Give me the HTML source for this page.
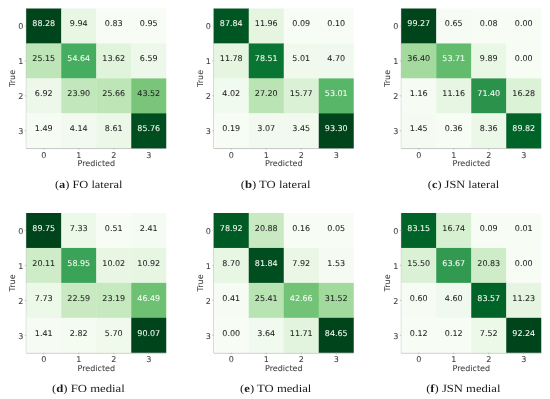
<!DOCTYPE html>
<html lang="en"><head><meta charset="utf-8"><title>Confusion matrices</title>
<style>html,body{margin:0;padding:0;background:#fff}body{width:550px;height:399px;overflow:hidden}svg{display:block}.c{font-family:"DejaVu Sans","Liberation Sans",sans-serif;text-anchor:middle;text-rendering:geometricPrecision;stroke-width:0.06px}.cap{font-family:"Liberation Serif","DejaVu Serif",serif;text-anchor:middle;fill:#1a1a1a;text-rendering:geometricPrecision}</style></head><body>
<svg width="550" height="399" viewBox="0 0 550 399">
<rect width="550" height="399" fill="#ffffff"/>
<g>
<path d="M26.35 8.50V148.55H166.25" fill="none" stroke="#b8b8b8" stroke-width="1"/>
<rect x="26.25" y="8.50" width="35.30" height="35.24" fill="#00441b"/>
<rect x="61.25" y="8.50" width="35.30" height="35.24" fill="#e8f6e4"/>
<rect x="96.25" y="8.50" width="35.30" height="35.24" fill="#f7fcf5"/>
<rect x="131.25" y="8.50" width="35.00" height="35.24" fill="#f7fcf5"/>
<rect x="26.25" y="43.44" width="35.30" height="35.24" fill="#bee5b8"/>
<rect x="61.25" y="43.44" width="35.30" height="35.24" fill="#45ad5f"/>
<rect x="96.25" y="43.44" width="35.30" height="35.24" fill="#e0f3db"/>
<rect x="131.25" y="43.44" width="35.00" height="35.24" fill="#eef8ea"/>
<rect x="26.25" y="78.38" width="35.30" height="35.24" fill="#edf8ea"/>
<rect x="61.25" y="78.38" width="35.30" height="35.24" fill="#c3e7bc"/>
<rect x="96.25" y="78.38" width="35.30" height="35.24" fill="#bde5b6"/>
<rect x="131.25" y="78.38" width="35.00" height="35.24" fill="#79c67a"/>
<rect x="26.25" y="113.31" width="35.30" height="34.94" fill="#f6fcf4"/>
<rect x="61.25" y="113.31" width="35.30" height="34.94" fill="#f2faef"/>
<rect x="96.25" y="113.31" width="35.30" height="34.94" fill="#ebf7e7"/>
<rect x="131.25" y="113.31" width="35.00" height="34.94" fill="#004d1f"/>
<path d="M24.75 25.97H26.25M43.75 148.25v1.5" stroke="#b8b8b8" stroke-width="0.8"/>
<path d="M24.75 60.91H26.25M78.75 148.25v1.5" stroke="#b8b8b8" stroke-width="0.8"/>
<path d="M24.75 95.84H26.25M113.75 148.25v1.5" stroke="#b8b8b8" stroke-width="0.8"/>
<path d="M24.75 130.78H26.25M148.75 148.25v1.5" stroke="#b8b8b8" stroke-width="0.8"/>
<text class="c" x="43.75" y="26.32" font-size="8.0" fill="#f7fcf5" stroke="#f7fcf5">88.28</text>
<text class="c" x="78.75" y="26.32" font-size="8.0" fill="#262626" stroke="#262626">9.94</text>
<text class="c" x="113.75" y="26.32" font-size="8.0" fill="#262626" stroke="#262626">0.83</text>
<text class="c" x="148.75" y="26.32" font-size="8.0" fill="#262626" stroke="#262626">0.95</text>
<text class="c" x="43.75" y="61.26" font-size="8.0" fill="#262626" stroke="#262626">25.15</text>
<text class="c" x="78.75" y="61.26" font-size="8.0" fill="#f7fcf5" stroke="#f7fcf5">54.64</text>
<text class="c" x="113.75" y="61.26" font-size="8.0" fill="#262626" stroke="#262626">13.62</text>
<text class="c" x="148.75" y="61.26" font-size="8.0" fill="#262626" stroke="#262626">6.59</text>
<text class="c" x="43.75" y="96.19" font-size="8.0" fill="#262626" stroke="#262626">6.92</text>
<text class="c" x="78.75" y="96.19" font-size="8.0" fill="#262626" stroke="#262626">23.90</text>
<text class="c" x="113.75" y="96.19" font-size="8.0" fill="#262626" stroke="#262626">25.66</text>
<text class="c" x="148.75" y="96.19" font-size="8.0" fill="#262626" stroke="#262626">43.52</text>
<text class="c" x="43.75" y="131.13" font-size="8.0" fill="#262626" stroke="#262626">1.49</text>
<text class="c" x="78.75" y="131.13" font-size="8.0" fill="#262626" stroke="#262626">4.14</text>
<text class="c" x="113.75" y="131.13" font-size="8.0" fill="#262626" stroke="#262626">8.61</text>
<text class="c" x="148.75" y="131.13" font-size="8.0" fill="#f7fcf5" stroke="#f7fcf5">85.76</text>
<text class="c" x="43.75" y="157.75" font-size="8.0" fill="#404040" stroke="#404040">0</text>
<text class="c" x="23.45" y="29.47" font-size="8.0" fill="#404040" stroke="#404040" style="text-anchor:end">0</text>
<text class="c" x="78.75" y="157.75" font-size="8.0" fill="#404040" stroke="#404040">1</text>
<text class="c" x="23.45" y="64.41" font-size="8.0" fill="#404040" stroke="#404040" style="text-anchor:end">1</text>
<text class="c" x="113.75" y="157.75" font-size="8.0" fill="#404040" stroke="#404040">2</text>
<text class="c" x="23.45" y="99.34" font-size="8.0" fill="#404040" stroke="#404040" style="text-anchor:end">2</text>
<text class="c" x="148.75" y="157.75" font-size="8.0" fill="#404040" stroke="#404040">3</text>
<text class="c" x="23.45" y="134.28" font-size="8.0" fill="#404040" stroke="#404040" style="text-anchor:end">3</text>
<text class="c" x="96.25" y="166.45" font-size="8.0" fill="#404040" stroke="#404040">Predicted</text>
<text class="c" transform="translate(15.45 78.38) rotate(-90)" font-size="8.0" fill="#404040" stroke="#404040">True</text>
<text class="cap" transform="translate(88.65 187.95) scale(1.127 1)" font-size="11">(<tspan font-weight="bold">a</tspan>) FO lateral</text>
</g>
<g>
<path d="M213.85 8.50V148.55H353.75" fill="none" stroke="#b8b8b8" stroke-width="1"/>
<rect x="213.75" y="8.50" width="35.30" height="35.24" fill="#005622"/>
<rect x="248.75" y="8.50" width="35.30" height="35.24" fill="#e5f5e0"/>
<rect x="283.75" y="8.50" width="35.30" height="35.24" fill="#f7fcf5"/>
<rect x="318.75" y="8.50" width="35.00" height="35.24" fill="#f7fcf5"/>
<rect x="213.75" y="43.44" width="35.30" height="35.24" fill="#e5f5e0"/>
<rect x="248.75" y="43.44" width="35.30" height="35.24" fill="#097532"/>
<rect x="283.75" y="43.44" width="35.30" height="35.24" fill="#f0f9ec"/>
<rect x="318.75" y="43.44" width="35.00" height="35.24" fill="#f0f9ed"/>
<rect x="213.75" y="78.38" width="35.30" height="35.24" fill="#f1faee"/>
<rect x="248.75" y="78.38" width="35.30" height="35.24" fill="#bbe4b4"/>
<rect x="283.75" y="78.38" width="35.30" height="35.24" fill="#dbf1d5"/>
<rect x="318.75" y="78.38" width="35.00" height="35.24" fill="#58b668"/>
<rect x="213.75" y="113.31" width="35.30" height="34.94" fill="#f7fcf5"/>
<rect x="248.75" y="113.31" width="35.30" height="34.94" fill="#f2faf0"/>
<rect x="283.75" y="113.31" width="35.30" height="34.94" fill="#f2faef"/>
<rect x="318.75" y="113.31" width="35.00" height="34.94" fill="#00441b"/>
<path d="M212.25 25.97H213.75M231.25 148.25v1.5" stroke="#b8b8b8" stroke-width="0.8"/>
<path d="M212.25 60.91H213.75M266.25 148.25v1.5" stroke="#b8b8b8" stroke-width="0.8"/>
<path d="M212.25 95.84H213.75M301.25 148.25v1.5" stroke="#b8b8b8" stroke-width="0.8"/>
<path d="M212.25 130.78H213.75M336.25 148.25v1.5" stroke="#b8b8b8" stroke-width="0.8"/>
<text class="c" x="231.25" y="26.32" font-size="8.0" fill="#f7fcf5" stroke="#f7fcf5">87.84</text>
<text class="c" x="266.25" y="26.32" font-size="8.0" fill="#262626" stroke="#262626">11.96</text>
<text class="c" x="301.25" y="26.32" font-size="8.0" fill="#262626" stroke="#262626">0.09</text>
<text class="c" x="336.25" y="26.32" font-size="8.0" fill="#262626" stroke="#262626">0.10</text>
<text class="c" x="231.25" y="61.26" font-size="8.0" fill="#262626" stroke="#262626">11.78</text>
<text class="c" x="266.25" y="61.26" font-size="8.0" fill="#f7fcf5" stroke="#f7fcf5">78.51</text>
<text class="c" x="301.25" y="61.26" font-size="8.0" fill="#262626" stroke="#262626">5.01</text>
<text class="c" x="336.25" y="61.26" font-size="8.0" fill="#262626" stroke="#262626">4.70</text>
<text class="c" x="231.25" y="96.19" font-size="8.0" fill="#262626" stroke="#262626">4.02</text>
<text class="c" x="266.25" y="96.19" font-size="8.0" fill="#262626" stroke="#262626">27.20</text>
<text class="c" x="301.25" y="96.19" font-size="8.0" fill="#262626" stroke="#262626">15.77</text>
<text class="c" x="336.25" y="96.19" font-size="8.0" fill="#f7fcf5" stroke="#f7fcf5">53.01</text>
<text class="c" x="231.25" y="131.13" font-size="8.0" fill="#262626" stroke="#262626">0.19</text>
<text class="c" x="266.25" y="131.13" font-size="8.0" fill="#262626" stroke="#262626">3.07</text>
<text class="c" x="301.25" y="131.13" font-size="8.0" fill="#262626" stroke="#262626">3.45</text>
<text class="c" x="336.25" y="131.13" font-size="8.0" fill="#f7fcf5" stroke="#f7fcf5">93.30</text>
<text class="c" x="231.25" y="157.75" font-size="8.0" fill="#404040" stroke="#404040">0</text>
<text class="c" x="210.95" y="29.47" font-size="8.0" fill="#404040" stroke="#404040" style="text-anchor:end">0</text>
<text class="c" x="266.25" y="157.75" font-size="8.0" fill="#404040" stroke="#404040">1</text>
<text class="c" x="210.95" y="64.41" font-size="8.0" fill="#404040" stroke="#404040" style="text-anchor:end">1</text>
<text class="c" x="301.25" y="157.75" font-size="8.0" fill="#404040" stroke="#404040">2</text>
<text class="c" x="210.95" y="99.34" font-size="8.0" fill="#404040" stroke="#404040" style="text-anchor:end">2</text>
<text class="c" x="336.25" y="157.75" font-size="8.0" fill="#404040" stroke="#404040">3</text>
<text class="c" x="210.95" y="134.28" font-size="8.0" fill="#404040" stroke="#404040" style="text-anchor:end">3</text>
<text class="c" x="283.75" y="166.45" font-size="8.0" fill="#404040" stroke="#404040">Predicted</text>
<text class="c" transform="translate(202.95 78.38) rotate(-90)" font-size="8.0" fill="#404040" stroke="#404040">True</text>
<text class="cap" transform="translate(275.60 187.95) scale(1.150 1)" font-size="11">(<tspan font-weight="bold">b</tspan>) TO lateral</text>
</g>
<g>
<path d="M401.35 8.50V148.55H541.25" fill="none" stroke="#b8b8b8" stroke-width="1"/>
<rect x="401.25" y="8.50" width="35.30" height="35.24" fill="#00441b"/>
<rect x="436.25" y="8.50" width="35.30" height="35.24" fill="#f6fcf4"/>
<rect x="471.25" y="8.50" width="35.30" height="35.24" fill="#f7fcf5"/>
<rect x="506.25" y="8.50" width="35.00" height="35.24" fill="#f7fcf5"/>
<rect x="401.25" y="43.44" width="35.30" height="35.24" fill="#a4da9e"/>
<rect x="436.25" y="43.44" width="35.30" height="35.24" fill="#63bc6e"/>
<rect x="471.25" y="43.44" width="35.30" height="35.24" fill="#e9f7e5"/>
<rect x="506.25" y="43.44" width="35.00" height="35.24" fill="#f7fcf5"/>
<rect x="401.25" y="78.38" width="35.30" height="35.24" fill="#f6fcf4"/>
<rect x="436.25" y="78.38" width="35.30" height="35.24" fill="#e7f6e3"/>
<rect x="471.25" y="78.38" width="35.30" height="35.24" fill="#2a924a"/>
<rect x="506.25" y="78.38" width="35.00" height="35.24" fill="#dcf2d7"/>
<rect x="401.25" y="113.31" width="35.30" height="34.94" fill="#f5fbf3"/>
<rect x="436.25" y="113.31" width="35.30" height="34.94" fill="#f7fcf5"/>
<rect x="471.25" y="113.31" width="35.30" height="34.94" fill="#ebf7e7"/>
<rect x="506.25" y="113.31" width="35.00" height="34.94" fill="#006328"/>
<path d="M399.75 25.97H401.25M418.75 148.25v1.5" stroke="#b8b8b8" stroke-width="0.8"/>
<path d="M399.75 60.91H401.25M453.75 148.25v1.5" stroke="#b8b8b8" stroke-width="0.8"/>
<path d="M399.75 95.84H401.25M488.75 148.25v1.5" stroke="#b8b8b8" stroke-width="0.8"/>
<path d="M399.75 130.78H401.25M523.75 148.25v1.5" stroke="#b8b8b8" stroke-width="0.8"/>
<text class="c" x="418.75" y="26.32" font-size="8.0" fill="#f7fcf5" stroke="#f7fcf5">99.27</text>
<text class="c" x="453.75" y="26.32" font-size="8.0" fill="#262626" stroke="#262626">0.65</text>
<text class="c" x="488.75" y="26.32" font-size="8.0" fill="#262626" stroke="#262626">0.08</text>
<text class="c" x="523.75" y="26.32" font-size="8.0" fill="#262626" stroke="#262626">0.00</text>
<text class="c" x="418.75" y="61.26" font-size="8.0" fill="#262626" stroke="#262626">36.40</text>
<text class="c" x="453.75" y="61.26" font-size="8.0" fill="#f7fcf5" stroke="#f7fcf5">53.71</text>
<text class="c" x="488.75" y="61.26" font-size="8.0" fill="#262626" stroke="#262626">9.89</text>
<text class="c" x="523.75" y="61.26" font-size="8.0" fill="#262626" stroke="#262626">0.00</text>
<text class="c" x="418.75" y="96.19" font-size="8.0" fill="#262626" stroke="#262626">1.16</text>
<text class="c" x="453.75" y="96.19" font-size="8.0" fill="#262626" stroke="#262626">11.16</text>
<text class="c" x="488.75" y="96.19" font-size="8.0" fill="#f7fcf5" stroke="#f7fcf5">71.40</text>
<text class="c" x="523.75" y="96.19" font-size="8.0" fill="#262626" stroke="#262626">16.28</text>
<text class="c" x="418.75" y="131.13" font-size="8.0" fill="#262626" stroke="#262626">1.45</text>
<text class="c" x="453.75" y="131.13" font-size="8.0" fill="#262626" stroke="#262626">0.36</text>
<text class="c" x="488.75" y="131.13" font-size="8.0" fill="#262626" stroke="#262626">8.36</text>
<text class="c" x="523.75" y="131.13" font-size="8.0" fill="#f7fcf5" stroke="#f7fcf5">89.82</text>
<text class="c" x="418.75" y="157.75" font-size="8.0" fill="#404040" stroke="#404040">0</text>
<text class="c" x="398.45" y="29.47" font-size="8.0" fill="#404040" stroke="#404040" style="text-anchor:end">0</text>
<text class="c" x="453.75" y="157.75" font-size="8.0" fill="#404040" stroke="#404040">1</text>
<text class="c" x="398.45" y="64.41" font-size="8.0" fill="#404040" stroke="#404040" style="text-anchor:end">1</text>
<text class="c" x="488.75" y="157.75" font-size="8.0" fill="#404040" stroke="#404040">2</text>
<text class="c" x="398.45" y="99.34" font-size="8.0" fill="#404040" stroke="#404040" style="text-anchor:end">2</text>
<text class="c" x="523.75" y="157.75" font-size="8.0" fill="#404040" stroke="#404040">3</text>
<text class="c" x="398.45" y="134.28" font-size="8.0" fill="#404040" stroke="#404040" style="text-anchor:end">3</text>
<text class="c" x="471.25" y="166.45" font-size="8.0" fill="#404040" stroke="#404040">Predicted</text>
<text class="c" transform="translate(390.45 78.38) rotate(-90)" font-size="8.0" fill="#404040" stroke="#404040">True</text>
<text class="cap" transform="translate(463.45 187.95) scale(1.122 1)" font-size="11">(<tspan font-weight="bold">c</tspan>) JSN lateral</text>
</g>
<g>
<path d="M26.35 213.00V353.05H166.25" fill="none" stroke="#b8b8b8" stroke-width="1"/>
<rect x="26.25" y="213.00" width="35.30" height="35.24" fill="#00441b"/>
<rect x="61.25" y="213.00" width="35.30" height="35.24" fill="#ecf8e8"/>
<rect x="96.25" y="213.00" width="35.30" height="35.24" fill="#f7fcf5"/>
<rect x="131.25" y="213.00" width="35.00" height="35.24" fill="#f4fbf2"/>
<rect x="26.25" y="247.94" width="35.30" height="35.24" fill="#ceecc8"/>
<rect x="61.25" y="247.94" width="35.30" height="35.24" fill="#3aa357"/>
<rect x="96.25" y="247.94" width="35.30" height="35.24" fill="#e8f6e3"/>
<rect x="131.25" y="247.94" width="35.00" height="35.24" fill="#e7f6e2"/>
<rect x="26.25" y="282.88" width="35.30" height="35.24" fill="#ecf8e8"/>
<rect x="61.25" y="282.88" width="35.30" height="35.24" fill="#c8e9c1"/>
<rect x="96.25" y="282.88" width="35.30" height="35.24" fill="#c7e9c0"/>
<rect x="131.25" y="282.88" width="35.00" height="35.24" fill="#6ec173"/>
<rect x="26.25" y="317.81" width="35.30" height="34.94" fill="#f6fcf4"/>
<rect x="61.25" y="317.81" width="35.30" height="34.94" fill="#f4fbf1"/>
<rect x="96.25" y="317.81" width="35.30" height="34.94" fill="#eff9ec"/>
<rect x="131.25" y="317.81" width="35.00" height="34.94" fill="#00441b"/>
<path d="M24.75 230.47H26.25M43.75 352.75v1.5" stroke="#b8b8b8" stroke-width="0.8"/>
<path d="M24.75 265.41H26.25M78.75 352.75v1.5" stroke="#b8b8b8" stroke-width="0.8"/>
<path d="M24.75 300.34H26.25M113.75 352.75v1.5" stroke="#b8b8b8" stroke-width="0.8"/>
<path d="M24.75 335.28H26.25M148.75 352.75v1.5" stroke="#b8b8b8" stroke-width="0.8"/>
<text class="c" x="43.75" y="230.82" font-size="8.0" fill="#f7fcf5" stroke="#f7fcf5">89.75</text>
<text class="c" x="78.75" y="230.82" font-size="8.0" fill="#262626" stroke="#262626">7.33</text>
<text class="c" x="113.75" y="230.82" font-size="8.0" fill="#262626" stroke="#262626">0.51</text>
<text class="c" x="148.75" y="230.82" font-size="8.0" fill="#262626" stroke="#262626">2.41</text>
<text class="c" x="43.75" y="265.76" font-size="8.0" fill="#262626" stroke="#262626">20.11</text>
<text class="c" x="78.75" y="265.76" font-size="8.0" fill="#f7fcf5" stroke="#f7fcf5">58.95</text>
<text class="c" x="113.75" y="265.76" font-size="8.0" fill="#262626" stroke="#262626">10.02</text>
<text class="c" x="148.75" y="265.76" font-size="8.0" fill="#262626" stroke="#262626">10.92</text>
<text class="c" x="43.75" y="300.69" font-size="8.0" fill="#262626" stroke="#262626">7.73</text>
<text class="c" x="78.75" y="300.69" font-size="8.0" fill="#262626" stroke="#262626">22.59</text>
<text class="c" x="113.75" y="300.69" font-size="8.0" fill="#262626" stroke="#262626">23.19</text>
<text class="c" x="148.75" y="300.69" font-size="8.0" fill="#f7fcf5" stroke="#f7fcf5">46.49</text>
<text class="c" x="43.75" y="335.63" font-size="8.0" fill="#262626" stroke="#262626">1.41</text>
<text class="c" x="78.75" y="335.63" font-size="8.0" fill="#262626" stroke="#262626">2.82</text>
<text class="c" x="113.75" y="335.63" font-size="8.0" fill="#262626" stroke="#262626">5.70</text>
<text class="c" x="148.75" y="335.63" font-size="8.0" fill="#f7fcf5" stroke="#f7fcf5">90.07</text>
<text class="c" x="43.75" y="362.25" font-size="8.0" fill="#404040" stroke="#404040">0</text>
<text class="c" x="23.45" y="233.97" font-size="8.0" fill="#404040" stroke="#404040" style="text-anchor:end">0</text>
<text class="c" x="78.75" y="362.25" font-size="8.0" fill="#404040" stroke="#404040">1</text>
<text class="c" x="23.45" y="268.91" font-size="8.0" fill="#404040" stroke="#404040" style="text-anchor:end">1</text>
<text class="c" x="113.75" y="362.25" font-size="8.0" fill="#404040" stroke="#404040">2</text>
<text class="c" x="23.45" y="303.84" font-size="8.0" fill="#404040" stroke="#404040" style="text-anchor:end">2</text>
<text class="c" x="148.75" y="362.25" font-size="8.0" fill="#404040" stroke="#404040">3</text>
<text class="c" x="23.45" y="338.78" font-size="8.0" fill="#404040" stroke="#404040" style="text-anchor:end">3</text>
<text class="c" x="96.25" y="370.95" font-size="8.0" fill="#404040" stroke="#404040">Predicted</text>
<text class="c" transform="translate(15.45 282.88) rotate(-90)" font-size="8.0" fill="#404040" stroke="#404040">True</text>
<text class="cap" transform="translate(88.40 392.45) scale(1.155 1)" font-size="11">(<tspan font-weight="bold">d</tspan>) FO medial</text>
</g>
<g>
<path d="M213.85 213.00V353.05H353.75" fill="none" stroke="#b8b8b8" stroke-width="1"/>
<rect x="213.75" y="213.00" width="35.30" height="35.24" fill="#005a24"/>
<rect x="248.75" y="213.00" width="35.30" height="35.24" fill="#c8e9c1"/>
<rect x="283.75" y="213.00" width="35.30" height="35.24" fill="#f7fcf5"/>
<rect x="318.75" y="213.00" width="35.00" height="35.24" fill="#f7fcf5"/>
<rect x="213.75" y="247.94" width="35.30" height="35.24" fill="#e8f6e4"/>
<rect x="248.75" y="247.94" width="35.30" height="35.24" fill="#004e1f"/>
<rect x="283.75" y="247.94" width="35.30" height="35.24" fill="#eaf7e6"/>
<rect x="318.75" y="247.94" width="35.00" height="35.24" fill="#f5fbf2"/>
<rect x="213.75" y="282.88" width="35.30" height="35.24" fill="#f6fcf4"/>
<rect x="248.75" y="282.88" width="35.30" height="35.24" fill="#b8e3b2"/>
<rect x="283.75" y="282.88" width="35.30" height="35.24" fill="#72c375"/>
<rect x="318.75" y="282.88" width="35.00" height="35.24" fill="#a2d99c"/>
<rect x="213.75" y="317.81" width="35.30" height="34.94" fill="#f7fcf5"/>
<rect x="248.75" y="317.81" width="35.30" height="34.94" fill="#f1faee"/>
<rect x="283.75" y="317.81" width="35.30" height="34.94" fill="#e2f4dd"/>
<rect x="318.75" y="317.81" width="35.00" height="34.94" fill="#00441b"/>
<path d="M212.25 230.47H213.75M231.25 352.75v1.5" stroke="#b8b8b8" stroke-width="0.8"/>
<path d="M212.25 265.41H213.75M266.25 352.75v1.5" stroke="#b8b8b8" stroke-width="0.8"/>
<path d="M212.25 300.34H213.75M301.25 352.75v1.5" stroke="#b8b8b8" stroke-width="0.8"/>
<path d="M212.25 335.28H213.75M336.25 352.75v1.5" stroke="#b8b8b8" stroke-width="0.8"/>
<text class="c" x="231.25" y="230.82" font-size="8.0" fill="#f7fcf5" stroke="#f7fcf5">78.92</text>
<text class="c" x="266.25" y="230.82" font-size="8.0" fill="#262626" stroke="#262626">20.88</text>
<text class="c" x="301.25" y="230.82" font-size="8.0" fill="#262626" stroke="#262626">0.16</text>
<text class="c" x="336.25" y="230.82" font-size="8.0" fill="#262626" stroke="#262626">0.05</text>
<text class="c" x="231.25" y="265.76" font-size="8.0" fill="#262626" stroke="#262626">8.70</text>
<text class="c" x="266.25" y="265.76" font-size="8.0" fill="#f7fcf5" stroke="#f7fcf5">81.84</text>
<text class="c" x="301.25" y="265.76" font-size="8.0" fill="#262626" stroke="#262626">7.92</text>
<text class="c" x="336.25" y="265.76" font-size="8.0" fill="#262626" stroke="#262626">1.53</text>
<text class="c" x="231.25" y="300.69" font-size="8.0" fill="#262626" stroke="#262626">0.41</text>
<text class="c" x="266.25" y="300.69" font-size="8.0" fill="#262626" stroke="#262626">25.41</text>
<text class="c" x="301.25" y="300.69" font-size="8.0" fill="#f7fcf5" stroke="#f7fcf5">42.66</text>
<text class="c" x="336.25" y="300.69" font-size="8.0" fill="#262626" stroke="#262626">31.52</text>
<text class="c" x="231.25" y="335.63" font-size="8.0" fill="#262626" stroke="#262626">0.00</text>
<text class="c" x="266.25" y="335.63" font-size="8.0" fill="#262626" stroke="#262626">3.64</text>
<text class="c" x="301.25" y="335.63" font-size="8.0" fill="#262626" stroke="#262626">11.71</text>
<text class="c" x="336.25" y="335.63" font-size="8.0" fill="#f7fcf5" stroke="#f7fcf5">84.65</text>
<text class="c" x="231.25" y="362.25" font-size="8.0" fill="#404040" stroke="#404040">0</text>
<text class="c" x="210.95" y="233.97" font-size="8.0" fill="#404040" stroke="#404040" style="text-anchor:end">0</text>
<text class="c" x="266.25" y="362.25" font-size="8.0" fill="#404040" stroke="#404040">1</text>
<text class="c" x="210.95" y="268.91" font-size="8.0" fill="#404040" stroke="#404040" style="text-anchor:end">1</text>
<text class="c" x="301.25" y="362.25" font-size="8.0" fill="#404040" stroke="#404040">2</text>
<text class="c" x="210.95" y="303.84" font-size="8.0" fill="#404040" stroke="#404040" style="text-anchor:end">2</text>
<text class="c" x="336.25" y="362.25" font-size="8.0" fill="#404040" stroke="#404040">3</text>
<text class="c" x="210.95" y="338.78" font-size="8.0" fill="#404040" stroke="#404040" style="text-anchor:end">3</text>
<text class="c" x="283.75" y="370.95" font-size="8.0" fill="#404040" stroke="#404040">Predicted</text>
<text class="c" transform="translate(202.95 282.88) rotate(-90)" font-size="8.0" fill="#404040" stroke="#404040">True</text>
<text class="cap" transform="translate(275.70 392.45) scale(1.150 1)" font-size="11">(<tspan font-weight="bold">e</tspan>) TO medial</text>
</g>
<g>
<path d="M401.35 213.00V353.05H541.25" fill="none" stroke="#b8b8b8" stroke-width="1"/>
<rect x="401.25" y="213.00" width="35.30" height="35.24" fill="#006428"/>
<rect x="436.25" y="213.00" width="35.30" height="35.24" fill="#d8f0d2"/>
<rect x="471.25" y="213.00" width="35.30" height="35.24" fill="#f7fcf5"/>
<rect x="506.25" y="213.00" width="35.00" height="35.24" fill="#f7fcf5"/>
<rect x="401.25" y="247.94" width="35.30" height="35.24" fill="#dbf1d5"/>
<rect x="436.25" y="247.94" width="35.30" height="35.24" fill="#319a50"/>
<rect x="471.25" y="247.94" width="35.30" height="35.24" fill="#cdecc7"/>
<rect x="506.25" y="247.94" width="35.00" height="35.24" fill="#f7fcf5"/>
<rect x="401.25" y="282.88" width="35.30" height="35.24" fill="#f6fcf4"/>
<rect x="436.25" y="282.88" width="35.30" height="35.24" fill="#f0f9ed"/>
<rect x="471.25" y="282.88" width="35.30" height="35.24" fill="#006328"/>
<rect x="506.25" y="282.88" width="35.00" height="35.24" fill="#e5f5e1"/>
<rect x="401.25" y="317.81" width="35.30" height="34.94" fill="#f7fcf5"/>
<rect x="436.25" y="317.81" width="35.30" height="34.94" fill="#f7fcf5"/>
<rect x="471.25" y="317.81" width="35.30" height="34.94" fill="#ecf8e8"/>
<rect x="506.25" y="317.81" width="35.00" height="34.94" fill="#00441b"/>
<path d="M399.75 230.47H401.25M418.75 352.75v1.5" stroke="#b8b8b8" stroke-width="0.8"/>
<path d="M399.75 265.41H401.25M453.75 352.75v1.5" stroke="#b8b8b8" stroke-width="0.8"/>
<path d="M399.75 300.34H401.25M488.75 352.75v1.5" stroke="#b8b8b8" stroke-width="0.8"/>
<path d="M399.75 335.28H401.25M523.75 352.75v1.5" stroke="#b8b8b8" stroke-width="0.8"/>
<text class="c" x="418.75" y="230.82" font-size="8.0" fill="#f7fcf5" stroke="#f7fcf5">83.15</text>
<text class="c" x="453.75" y="230.82" font-size="8.0" fill="#262626" stroke="#262626">16.74</text>
<text class="c" x="488.75" y="230.82" font-size="8.0" fill="#262626" stroke="#262626">0.09</text>
<text class="c" x="523.75" y="230.82" font-size="8.0" fill="#262626" stroke="#262626">0.01</text>
<text class="c" x="418.75" y="265.76" font-size="8.0" fill="#262626" stroke="#262626">15.50</text>
<text class="c" x="453.75" y="265.76" font-size="8.0" fill="#f7fcf5" stroke="#f7fcf5">63.67</text>
<text class="c" x="488.75" y="265.76" font-size="8.0" fill="#262626" stroke="#262626">20.83</text>
<text class="c" x="523.75" y="265.76" font-size="8.0" fill="#262626" stroke="#262626">0.00</text>
<text class="c" x="418.75" y="300.69" font-size="8.0" fill="#262626" stroke="#262626">0.60</text>
<text class="c" x="453.75" y="300.69" font-size="8.0" fill="#262626" stroke="#262626">4.60</text>
<text class="c" x="488.75" y="300.69" font-size="8.0" fill="#f7fcf5" stroke="#f7fcf5">83.57</text>
<text class="c" x="523.75" y="300.69" font-size="8.0" fill="#262626" stroke="#262626">11.23</text>
<text class="c" x="418.75" y="335.63" font-size="8.0" fill="#262626" stroke="#262626">0.12</text>
<text class="c" x="453.75" y="335.63" font-size="8.0" fill="#262626" stroke="#262626">0.12</text>
<text class="c" x="488.75" y="335.63" font-size="8.0" fill="#262626" stroke="#262626">7.52</text>
<text class="c" x="523.75" y="335.63" font-size="8.0" fill="#f7fcf5" stroke="#f7fcf5">92.24</text>
<text class="c" x="418.75" y="362.25" font-size="8.0" fill="#404040" stroke="#404040">0</text>
<text class="c" x="398.45" y="233.97" font-size="8.0" fill="#404040" stroke="#404040" style="text-anchor:end">0</text>
<text class="c" x="453.75" y="362.25" font-size="8.0" fill="#404040" stroke="#404040">1</text>
<text class="c" x="398.45" y="268.91" font-size="8.0" fill="#404040" stroke="#404040" style="text-anchor:end">1</text>
<text class="c" x="488.75" y="362.25" font-size="8.0" fill="#404040" stroke="#404040">2</text>
<text class="c" x="398.45" y="303.84" font-size="8.0" fill="#404040" stroke="#404040" style="text-anchor:end">2</text>
<text class="c" x="523.75" y="362.25" font-size="8.0" fill="#404040" stroke="#404040">3</text>
<text class="c" x="398.45" y="338.78" font-size="8.0" fill="#404040" stroke="#404040" style="text-anchor:end">3</text>
<text class="c" x="471.25" y="370.95" font-size="8.0" fill="#404040" stroke="#404040">Predicted</text>
<text class="c" transform="translate(390.45 282.88) rotate(-90)" font-size="8.0" fill="#404040" stroke="#404040">True</text>
<text class="cap" transform="translate(463.30 392.45) scale(1.147 1)" font-size="11">(<tspan font-weight="bold">f</tspan>) JSN medial</text>
</g>
</svg></body></html>
